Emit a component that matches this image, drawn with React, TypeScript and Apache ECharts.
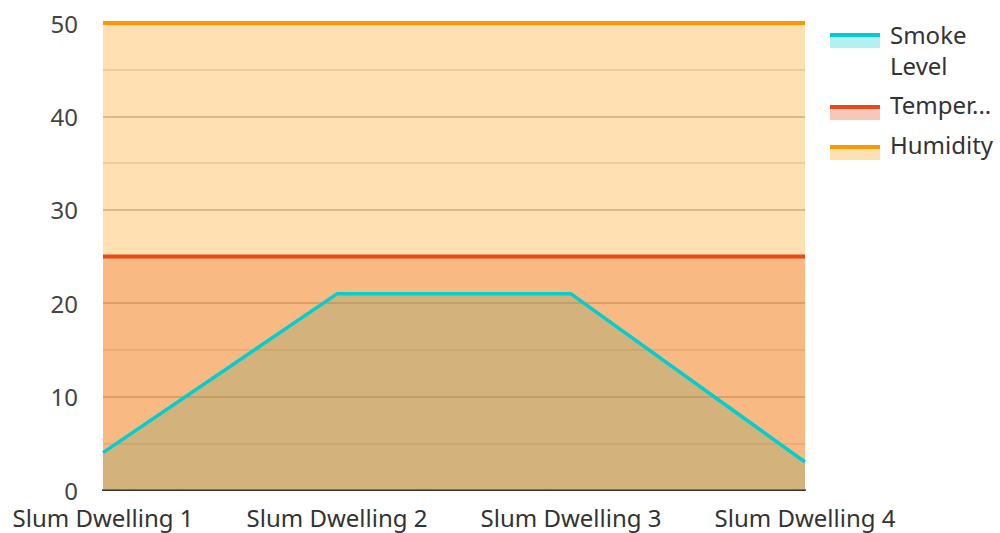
import React, { useEffect, useRef } from "react";
import * as echarts from "echarts";

const categories = ["Slum Dwelling 1", "Slum Dwelling 2", "Slum Dwelling 3", "Slum Dwelling 4"];
const smokeLevel = [4, 21, 21, 3];
const temperature = [25, 25, 25, 25];
const humidity = [50, 50, 50, 50];
const yTicks = { min: 0, max: 50, interval: 10 };

const seriesDefs = [
  { name: "Smoke Level", data: smokeLevel, color: "#00CED1", label: "Smoke\nLevel" },
  { name: "Temperature", data: temperature, color: "#E64A19", label: "Temper..." },
  { name: "Humidity", data: humidity, color: "#FF9800", label: "Humidity" },
];

const FONT = "Noto Sans";

export default function App() {
  const ref = useRef<HTMLDivElement>(null);
  useEffect(() => {
    if (!ref.current) return;
    const chart = echarts.init(ref.current, null, { renderer: "svg" });
    const areaSeries = seriesDefs.map((s, i) => ({
      name: s.name,
      type: "line",
      data: s.data,
      symbol: "none",
      z: 1 + i * 0.01,
      lineStyle: { width: 0 },
      areaStyle: { color: s.color, opacity: 0.3 },
      itemStyle: { color: s.color },
      silent: true,
    }));
    const lineSeries = seriesDefs.map((s) => ({
      name: s.name,
      type: "line",
      data: s.data,
      symbol: "none",
      z: 3,
      lineStyle: { width: s.name === "Smoke Level" ? 3.5 : 4, color: s.color },
      itemStyle: { color: s.color },
    }));
    const legendTops = [19, 89, 129];
    const iconTops = [33, 105, 145];
    const legendGraphics: any[] = [];
    seriesDefs.forEach((s, i) => {
      legendGraphics.push({
        type: "rect",
        shape: { x: 830, y: iconTops[i], width: 50, height: 15 },
        style: { fill: s.color, opacity: 0.3 },
      });
      legendGraphics.push({
        type: "rect",
        shape: { x: 830, y: iconTops[i], width: 50, height: 4 },
        style: { fill: s.color },
      });
      legendGraphics.push({
        type: "text",
        x: 890,
        y: legendTops[i],
        style: {
          text: s.label,
          fontFamily: FONT,
          fontSize: 24,
          lineHeight: 31,
          fill: "#333",
          textVerticalAlign: "top",
          textAlign: "left",
        },
      });
    });
    chart.setOption({
      animation: false,
      backgroundColor: "#fff",
      grid: { left: 103, right: 195, top: 23, bottom: 43, containLabel: false },
      xAxis: {
        type: "category",
        data: categories,
        boundaryGap: false,
        axisLine: { lineStyle: { color: "#333", width: 2 } },
        axisTick: { show: false },
        axisLabel: { fontFamily: FONT, fontSize: 24, color: "#333", margin: 15, interval: 0 },
        splitLine: { show: false },
      },
      yAxis: {
        type: "value",
        min: yTicks.min,
        max: yTicks.max,
        interval: yTicks.interval,
        axisLine: { show: false },
        axisTick: { show: false },
        axisLabel: { fontFamily: FONT, fontSize: 24, color: "#444", margin: 25 },
        splitLine: { show: true, lineStyle: { color: "#c8c8c8", width: 2 } },
        minorTick: { show: false, splitNumber: 2 },
        minorSplitLine: { show: true, lineStyle: { color: "#e4e4e4", width: 2 } },
      },
      series: [...areaSeries, ...lineSeries],
      graphic: legendGraphics,
    });
    return () => chart.dispose();
  }, []);
  return (
    <div
      ref={ref}
      style={{ position: "absolute", left: 0, top: 0, width: 1000, height: 533 }}
    />
  );
}
